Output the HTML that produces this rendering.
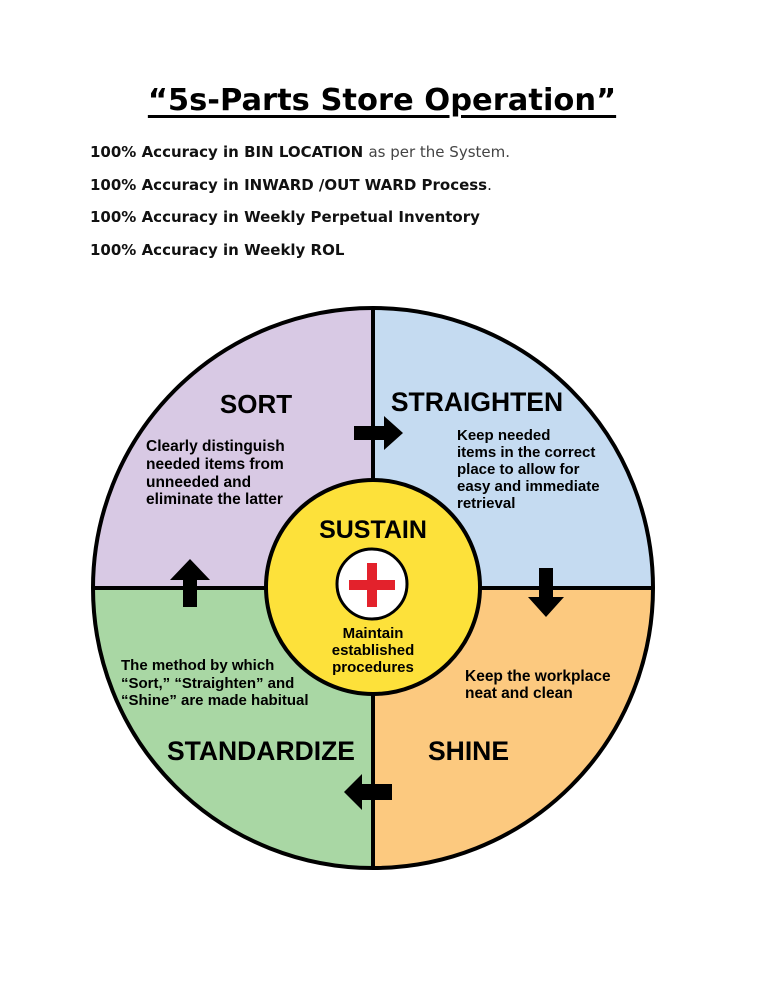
<!DOCTYPE html>
<html><head><style>
body{margin:0;background:#fff;width:768px;height:994px;overflow:hidden}
.t{position:absolute;font-family:"DejaVu Sans",sans-serif;color:#111;font-size:15px;font-weight:bold;left:90px;white-space:nowrap}
</style></head><body>
<div style="position:absolute;left:0;top:83px;width:768px;text-align:center;font-family:'DejaVu Sans',sans-serif;font-weight:bold;font-size:30.5px;"><span style="text-decoration:underline;text-underline-offset:5px;margin-left:-4px">“5s-Parts Store Operation”</span></div>
<div class="t" style="top:143px">100% Accuracy in BIN LOCATION <span style="color:#444;font-weight:normal">as per the System.</span></div>
<div class="t" style="top:176px">100% Accuracy in INWARD /OUT WARD Process<span style="font-weight:normal">.</span></div>
<div class="t" style="top:208px">100% Accuracy in Weekly Perpetual Inventory</div>
<div class="t" style="top:241px">100% Accuracy in Weekly ROL</div>
<svg style="position:absolute;left:0;top:0" width="768" height="994" font-family="Liberation Sans, Arial, sans-serif" font-weight="bold">
<path d="M373,588 L373,308 A280,280 0 0,0 93,588 Z" fill="#d8c9e4"/>
<path d="M373,588 L373,308 A280,280 0 0,1 653,588 Z" fill="#c5dbf1"/>
<path d="M373,588 L653,588 A280,280 0 0,1 373,868 Z" fill="#fcc97f"/>
<path d="M373,588 L373,868 A280,280 0 0,1 93,588 Z" fill="#a9d7a4"/>
<line x1="373" y1="308" x2="373" y2="868" stroke="#000" stroke-width="4"/>
<line x1="93" y1="588" x2="653" y2="588" stroke="#000" stroke-width="4"/>
<circle cx="373" cy="588" r="280" fill="none" stroke="#000" stroke-width="4"/>
<circle cx="373" cy="587" r="107" fill="#fde13a" stroke="#000" stroke-width="4"/>
<circle cx="372" cy="584" r="35" fill="#fff" stroke="#000" stroke-width="3"/>
<rect x="367" y="563" width="10" height="44" fill="#e3222c"/>
<rect x="349" y="580" width="46" height="10" fill="#e3222c"/>
<text x="373" y="538" font-size="25" text-anchor="middle">SUSTAIN</text>
<g font-size="15" text-anchor="middle"><text x="373" y="638">Maintain</text><text x="373" y="655">established</text><text x="373" y="672">procedures</text></g>
<text x="256" y="413" font-size="26" text-anchor="middle">SORT</text>
<text x="477" y="411" font-size="26.5" text-anchor="middle">STRAIGHTEN</text>
<text x="167" y="760" font-size="26.5">STANDARDIZE</text>
<text x="428" y="760" font-size="26.5">SHINE</text>
<g font-size="15.5"><text x="146" y="451">Clearly distinguish</text><text x="146" y="469">needed items from</text><text x="146" y="487">unneeded and</text><text x="146" y="504">eliminate the latter</text></g>
<g font-size="15"><text x="457" y="440">Keep needed</text><text x="457" y="457">items in the correct</text><text x="457" y="474">place to allow for</text><text x="457" y="491">easy and immediate</text><text x="457" y="508">retrieval</text></g>
<g font-size="15"><text x="121" y="670">The method by which</text><text x="121" y="688">“Sort,” “Straighten” and</text><text x="121" y="705">“Shine” are made habitual</text></g>
<g font-size="15.5"><text x="465" y="681">Keep the workplace</text><text x="465" y="698">neat and clean</text></g>
<polygon points="354,426 384,426 384,416 403,433 384,450 384,440 354,440" fill="#000"/>
<polygon points="539,568 553,568 553,597 564,597 546,617 528,597 539,597" fill="#000"/>
<polygon points="392,784 362,784 362,774 344,792 362,810 362,800 392,800" fill="#000"/>
<polygon points="183,607 197,607 197,580 210,580 190,559 170,580 183,580" fill="#000"/>
</svg>
</body></html>
